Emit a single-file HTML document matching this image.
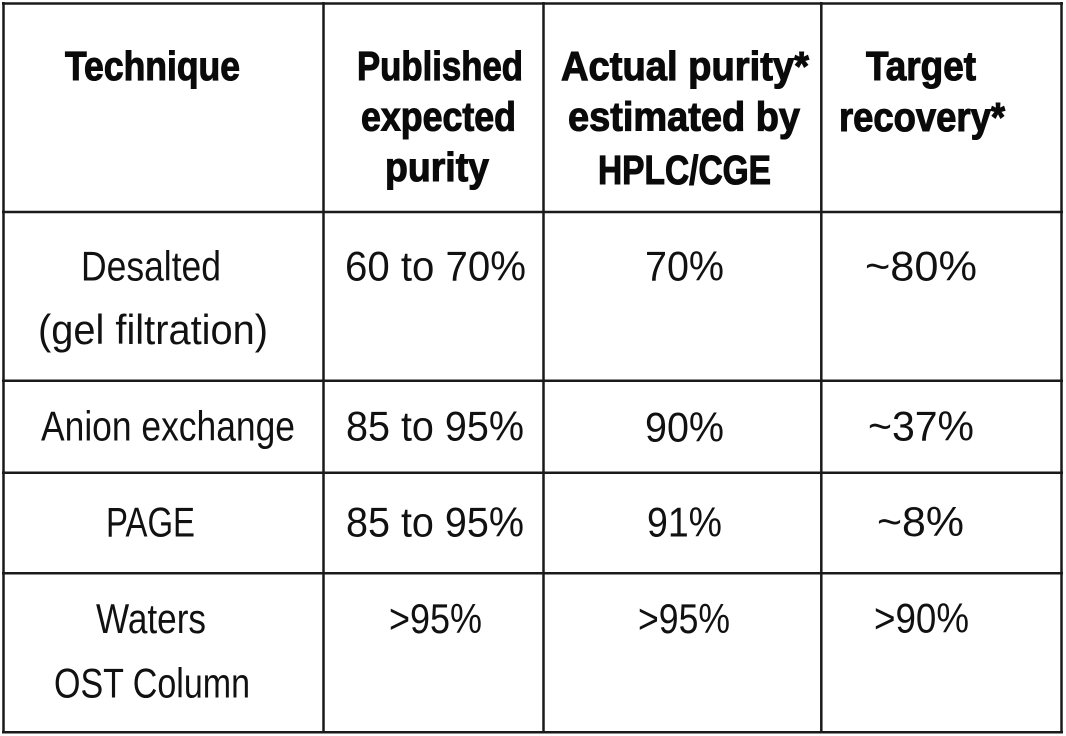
<!DOCTYPE html>
<html>
<head>
<meta charset="utf-8">
<style>
  html, body { margin: 0; padding: 0; background: #ffffff; }
  body { width: 1066px; height: 736px; overflow: hidden; }
  svg { display: block; }
  .h { font-family: "Liberation Sans", sans-serif; font-weight: bold; font-size: 41px; fill: #0a0a0a; stroke: #0a0a0a; stroke-width: 1.1px; }
  .d { font-family: "Liberation Sans", sans-serif; font-weight: normal; font-size: 42px; fill: #111111; }
</style>
</head>
<body>
<svg width="1066" height="736" viewBox="0 0 1066 736" xmlns="http://www.w3.org/2000/svg">
  <rect x="0" y="0" width="1066" height="736" fill="#ffffff"/>
  <g stroke="#1a1a1a" stroke-width="2.5" fill="none">
    <line x1="2" y1="3.5" x2="1063" y2="3.5"/>
    <line x1="2" y1="212" x2="1063" y2="212"/>
    <line x1="2" y1="380.7" x2="1063" y2="380.7"/>
    <line x1="2" y1="472.7" x2="1063" y2="472.7"/>
    <line x1="2" y1="573.3" x2="1063" y2="573.3"/>
    <line x1="2" y1="732.3" x2="1063" y2="732.3"/>
    <line x1="3.5" y1="2" x2="3.5" y2="733.5"/>
    <line x1="323.5" y1="2" x2="323.5" y2="733.5"/>
    <line x1="543.5" y1="2" x2="543.5" y2="733.5"/>
    <line x1="821.3" y1="2" x2="821.3" y2="733.5"/>
    <line x1="1061.5" y1="2" x2="1061.5" y2="733.5"/>
  </g>

  <!-- Header -->
  <text class="h" x="65" y="80" textLength="175" lengthAdjust="spacingAndGlyphs">Technique</text>
  <text class="h" x="357" y="80" textLength="166" lengthAdjust="spacingAndGlyphs">Published</text>
  <text class="h" x="361" y="130.5" textLength="155" lengthAdjust="spacingAndGlyphs">expected</text>
  <text class="h" x="385" y="181" textLength="104" lengthAdjust="spacingAndGlyphs">purity</text>
  <text class="h" x="561" y="80" textLength="248" lengthAdjust="spacingAndGlyphs">Actual purity*</text>
  <text class="h" x="568" y="130.5" textLength="232" lengthAdjust="spacingAndGlyphs">estimated by</text>
  <text class="h" x="598" y="184" textLength="173" lengthAdjust="spacingAndGlyphs">HPLC/CGE</text>
  <text class="h" x="866" y="80" textLength="110" lengthAdjust="spacingAndGlyphs">Target</text>
  <text class="h" x="839" y="131" textLength="166" lengthAdjust="spacingAndGlyphs">recovery*</text>

  <!-- Row 1 -->
  <text class="d" x="81" y="280.5" textLength="140" lengthAdjust="spacingAndGlyphs">Desalted</text>
  <text class="d" x="38" y="344" textLength="230" lengthAdjust="spacingAndGlyphs">(gel filtration)</text>
  <text class="d" x="345" y="280.5" textLength="181" lengthAdjust="spacingAndGlyphs">60 to 70%</text>
  <text class="d" x="645" y="280.5" textLength="79" lengthAdjust="spacingAndGlyphs">70%</text>
  <text class="d" x="865" y="280.5" textLength="112" lengthAdjust="spacingAndGlyphs">~80%</text>

  <!-- Row 2 -->
  <text class="d" x="41" y="440.7" textLength="254" lengthAdjust="spacingAndGlyphs">Anion exchange</text>
  <text class="d" x="346" y="440.7" textLength="178" lengthAdjust="spacingAndGlyphs">85 to 95%</text>
  <text class="d" x="645" y="441.5" textLength="79" lengthAdjust="spacingAndGlyphs">90%</text>
  <text class="d" x="868" y="440.7" textLength="106" lengthAdjust="spacingAndGlyphs">~37%</text>

  <!-- Row 3 -->
  <text class="d" x="106" y="536.7" textLength="89" lengthAdjust="spacingAndGlyphs">PAGE</text>
  <text class="d" x="346" y="536.7" textLength="178" lengthAdjust="spacingAndGlyphs">85 to 95%</text>
  <text class="d" x="647" y="536.7" textLength="75" lengthAdjust="spacingAndGlyphs">91%</text>
  <text class="d" x="877" y="536.2" textLength="87" lengthAdjust="spacingAndGlyphs">~8%</text>

  <!-- Row 4 -->
  <text class="d" x="96" y="633" textLength="110" lengthAdjust="spacingAndGlyphs">Waters</text>
  <text class="d" x="54" y="697.7" textLength="196" lengthAdjust="spacingAndGlyphs">OST Column</text>
  <text class="d" x="389" y="633" textLength="93" lengthAdjust="spacingAndGlyphs">&gt;95%</text>
  <text class="d" x="638" y="633" textLength="92" lengthAdjust="spacingAndGlyphs">&gt;95%</text>
  <text class="d" x="874" y="632.7" textLength="95" lengthAdjust="spacingAndGlyphs">&gt;90%</text>
</svg>
</body>
</html>
